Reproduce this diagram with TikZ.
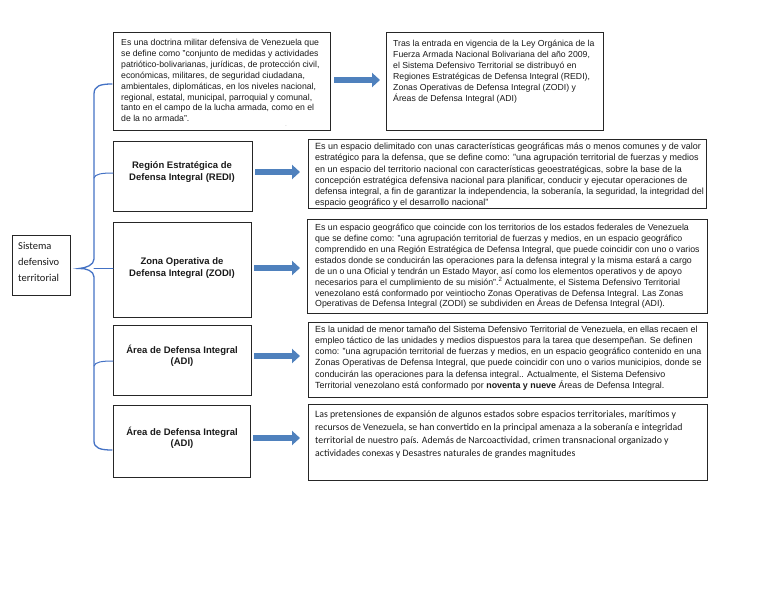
\documentclass[tikz,border=0pt]{standalone}
\usepackage{fontspec}
\setmainfont{Liberation Sans}
\newfontfamily\calfont{Carlito}
\usetikzlibrary{arrows.meta,calc}
\definecolor{bracecol}{HTML}{4472C4}
\definecolor{arrcol}{HTML}{4F81BD}
\definecolor{txtcol}{HTML}{1A1A1A}
\tikzset{
  box/.style={draw=black!85, line width=1pt, anchor=north west, inner sep=0pt},
  txt/.style={anchor=north west, inner sep=0pt, align=left, text=txtcol,
    font={\fontsize{8.7}{10.9}\selectfont}},
  bigtxt/.style={anchor=north west, inner sep=0pt, align=left, text=txtcol,
    font={\fontsize{9}{11.1}\selectfont}},
  midtxt/.style={anchor=north west, inner sep=0pt, align=left, text=txtcol,
    font={\fontsize{8.8}{10.9}\selectfont}},
  caltxt/.style={anchor=north west, inner sep=0pt, align=left, text=txtcol,
    font={\calfont\fontsize{9.8}{13}\selectfont}},
  lab/.style={inner sep=0pt, align=center, text=txtcol,
    font={\bfseries\fontsize{9.5}{11.5}\selectfont}},
  blockarrow/.style={draw=arrcol, line width=6pt, -{Triangle[length=8pt,width=14pt]}},
  bracestyle/.style={draw=bracecol, line width=1.3pt, line cap=round},
}
\begin{document}
\begin{tikzpicture}[x=1pt,y=-1pt]
\useasboundingbox (0,0) rectangle (768,594);
% top boxes
\node[box, minimum width=217pt, minimum height=98pt] (d1) at (113,32) {};
\node[txt] (d1t) at (121,39) {Es una doctrina militar defensiva de Venezuela que\\
se define como "conjunto de medidas y actividades\\
patriótico-bolivarianas, jurídicas, de protección civil,\\
económicas, militares, de seguridad ciudadana,\\
ambientales, diplomáticas, en los niveles nacional,\\
regional, estatal, municipal, parroquial y comunal,\\
tanto en el campo de la lucha armada, como en el\\
de la no armada".};
\node[inner sep=0pt, text=black!50, font=\tiny] (dot) at (286,126) {.};
\node[box, minimum width=217pt, minimum height=98pt] (d2) at (386,32) {};
\node[txt] (d2t) at (393,40) {Tras la entrada en vigencia de la Ley Orgánica de la\\
Fuerza Armada Nacional Bolivariana del año 2009,\\
el Sistema Defensivo Territorial se distribuyó en\\
Regiones Estratégicas de Defensa Integral (REDI),\\
Zonas Operativas de Defensa Integral (ZODI) y\\
Áreas de Defensa Integral (ADI)};
% sistema
\node[box, minimum width=58pt, minimum height=60pt] (sist) at (12,235) {};
\node[anchor=north west, inner sep=0pt, align=left, text=txtcol,
  font={\calfont\fontsize{10.5}{16}\selectfont}] (sistt) at (18,242) {Sistema\\defensivo\\territorial};
% left boxes
\node[box, minimum width=139pt, minimum height=70pt] (b2) at (113,141) {};
\node[lab] (l2) at (182,172) {Región Estratégica de\\Defensa Integral (REDI)};
\node[box, minimum width=138pt, minimum height=95pt] (b3) at (113,222) {};
\node[lab] (l3) at (182,268) {Zona Operativa de\\Defensa Integral (ZODI)};
\node[box, minimum width=138pt, minimum height=70pt] (b4) at (113,325) {};
\node[lab] (l4) at (182,356) {Área de Defensa Integral\\(ADI)};
\node[box, minimum width=137pt, minimum height=72pt] (b5) at (113,405) {};
\node[lab] (l5) at (182,438) {Área de Defensa Integral\\(ADI)};
% right text boxes
\node[box, minimum width=398pt, minimum height=69pt] (t2) at (308,139) {};
\node[bigtxt] (t2t) at (315,143) {Es un espacio delimitado con unas características geográficas más o menos comunes y de valor\\
estratégico para la defensa, que se define como: "una agrupación territorial de fuerzas y medios\\
en un espacio del territorio nacional con características geoestratégicas, sobre la base de la\\
concepción estratégica defensiva nacional para planificar, conducir y ejecutar operaciones de\\
defensa integral, a fin de garantizar la independencia, la soberanía, la seguridad, la integridad del\\
espacio geográfico y el desarrollo nacional"};
\node[box, minimum width=400pt, minimum height=94pt] (t3) at (307,219) {};
\node[midtxt] (t3t) at (315,224) {Es un espacio geográfico que coincide con los territorios de los estados federales de Venezuela\\
que se define como: "una agrupación territorial de fuerzas y medios, en un espacio geográfico\\
comprendido en una Región Estratégica de Defensa Integral, que puede coincidir con uno o varios\\
estados donde se conducirán las operaciones para la defensa integral y la misma estará a cargo\\
de un o una Oficial y tendrán un Estado Mayor, así como los elementos operativos y de apoyo\\
necesarios para el cumplimiento de su misión".\textsuperscript{2} Actualmente, el Sistema Defensivo Territorial\\
venezolano está conformado por veintiocho Zonas Operativas de Defensa Integral. Las Zonas\\
Operativas de Defensa Integral (ZODI) se subdividen en Áreas de Defensa Integral (ADI).};
\node[box, minimum width=399pt, minimum height=75pt] (t4) at (308,322) {};
\node[bigtxt, font={\fontsize{8.9}{11.1}\selectfont}] (t4t) at (315,326) {Es la unidad de menor tamaño del Sistema Defensivo Territorial de Venezuela, en ellas recaen el\\
empleo táctico de las unidades y medios dispuestos para la tarea que desempeñan. Se definen\\
como: "una agrupación territorial de fuerzas y medios, en un espacio geográfico contenido en una\\
Zonas Operativas de Defensa Integral, que puede coincidir con uno o varios municipios, donde se\\
conducirán las operaciones para la defensa integral.. Actualmente, el Sistema Defensivo\\
Territorial venezolano está conformado por \textbf{noventa y nueve} Áreas de Defensa Integral.};
\node[box, minimum width=399pt, minimum height=76pt] (t5) at (308,404) {};
\node[caltxt] (t5t) at (315,410) {Las pretensiones de expansión de algunos estados sobre espacios territoriales, marítimos y\\
recursos de Venezuela, se han convertido en la principal amenaza a la soberanía e integridad\\
territorial de nuestro país. Además de Narcoactividad, crimen transnacional organizado y\\
actividades conexas y Desastres naturales de grandes magnitudes};
% arrows
\draw[blockarrow, shorten <=3pt, shorten >=6pt] (d1.east |- 0,80) -- (d2.west |- 0,80);
\draw[blockarrow, shorten <=2pt, shorten >=8pt] (b2.east |- l2) -- (t2.west |- l2);
\draw[blockarrow, shorten <=2pt, shorten >=7pt] (b3.east |- l3) -- (t3.west |- l3);
\draw[blockarrow, shorten <=2pt, shorten >=8pt] (b4.east |- l4) -- (t4.west |- l4);
\draw[blockarrow, shorten <=2pt, shorten >=8pt] (b5.east |- l5) -- (t5.west |- l5);
% brace
\coordinate (tip) at ($(sist.east)+(8,3)$);
\coordinate (btop) at (112,84);
\coordinate (bbot) at (112,450);
\draw[bracestyle] (btop) .. controls (100,84) and (94,86) .. (94,94) -- (94,259)
  .. controls (94,265) and (86,268) .. (tip) .. controls (86,268) and (94,271) .. (94,277)
  -- (94,441) .. controls (94,448) and (100,450) .. (bbot);
\draw[bracestyle, line width=1pt] (94,178) .. controls (95,174) and (102,173) .. (b2.west |- 0,173);
\draw[bracestyle, line width=1pt] (94,268) -- (b3.west |- 0,268);
\draw[bracestyle, line width=1pt] (94,366) .. controls (95,362) and (102,361) .. (b4.west |- 0,361);
\end{tikzpicture}
\end{document}
